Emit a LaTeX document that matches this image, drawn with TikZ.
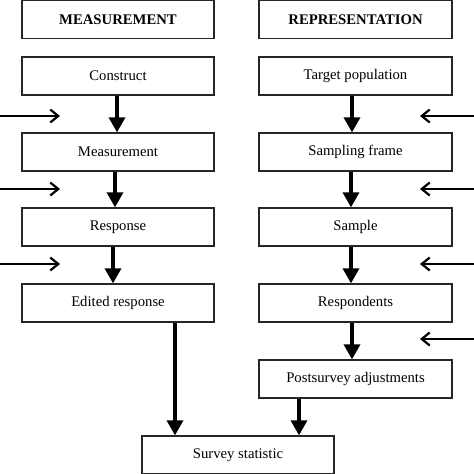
\documentclass[tikz,border=0pt]{standalone}
\usepackage{fontspec}
\setmainfont{Liberation Serif}
\usetikzlibrary{arrows.meta}
\tikzset{
  box/.style={draw=black!85, line width=1.3pt, minimum width=192pt, minimum height=38pt, inner sep=0pt,
    font=\fontsize{14.7}{17}\selectfont},
  varrow/.style={line width=3.4pt, -{Triangle[length=15pt,width=16pt]}},
  sarrow/.style={line width=2.2pt, -{Straight Barb[length=8pt,width=13pt,line width=2.2pt]}},
}
\begin{document}
\begin{tikzpicture}[x=1pt,y=-1pt]
\useasboundingbox (0,0) rectangle (474,474);
% left column
\node[box, font=\fontsize{14.7}{17}\selectfont\bfseries] (mh) at (118,19.5) {MEASUREMENT};
\node[box] (con) at (118,76) {Construct};
\node[box] (mea) at (118,152) {Measurement};
\node[box] (res) at (118,227) {Response};
\node[box] (edr) at (118,303) {Edited response};
% right column
\node[box, minimum width=193pt, font=\fontsize{14.7}{17}\selectfont\bfseries] (rh) at (355.5,19.5) {REPRESENTATION};
\node[box, minimum width=193pt] (tp) at (355.5,76) {Target population};
\node[box, minimum width=193pt] (sf) at (355.5,152) {Sampling frame};
\node[box, minimum width=193pt] (sa) at (355.5,227) {Sample};
\node[box, minimum width=193pt] (rp) at (355.5,303) {Respondents};
\node[box, minimum width=193pt] (ps) at (355.5,379) {Postsurvey adjustments};
% bottom
\node[box] (ss) at (238,455) {Survey statistic};
% vertical arrows
\draw[varrow] ([xshift=-1pt]con.south) -- ([xshift=-1pt]mea.north);
\draw[varrow] ([xshift=-3pt]mea.south) -- ([xshift=-3pt]res.north);
\draw[varrow] ([xshift=-5pt]res.south) -- ([xshift=-5pt]edr.north);
\draw[varrow] ([xshift=-3.5pt]tp.south) -- ([xshift=-3.5pt]sf.north);
\draw[varrow] ([xshift=-4.5pt]sf.south) -- ([xshift=-4.5pt]sa.north);
\draw[varrow] ([xshift=-4.5pt]sa.south) -- ([xshift=-4.5pt]rp.north);
\draw[varrow] ([xshift=-3.5pt]rp.south) -- ([xshift=-3.5pt]ps.north);
\draw[varrow] ([xshift=57pt]edr.south) -- ([xshift=-63pt]ss.north);
\draw[varrow] ([xshift=-56.5pt]ps.south) -- ([xshift=61pt]ss.north);
% side arrows
\coordinate (l1a) at (0,116); \coordinate (l1b) at (60,116);
\coordinate (l2a) at (0,189); \coordinate (l2b) at (60,189);
\coordinate (l3a) at (0,264); \coordinate (l3b) at (60,264);
\coordinate (r1a) at (474,116); \coordinate (r1b) at (420,116);
\coordinate (r2a) at (474,189); \coordinate (r2b) at (420,189);
\coordinate (r3a) at (474,264); \coordinate (r3b) at (420,264);
\coordinate (r4a) at (474,339); \coordinate (r4b) at (420,339);
\draw[sarrow] (l1a) -- (l1b);
\draw[sarrow] (l2a) -- (l2b);
\draw[sarrow] (l3a) -- (l3b);
\draw[sarrow] (r1a) -- (r1b);
\draw[sarrow] (r2a) -- (r2b);
\draw[sarrow] (r3a) -- (r3b);
\draw[sarrow] (r4a) -- (r4b);
\end{tikzpicture}
\end{document}
